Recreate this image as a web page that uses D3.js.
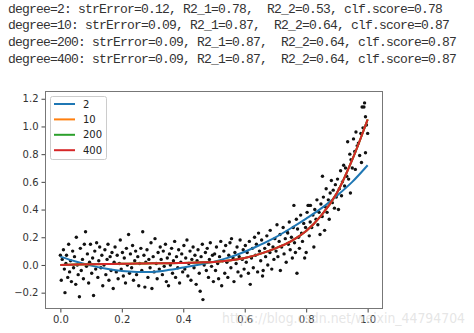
<!DOCTYPE html>
<html>
<head>
<meta charset="utf-8">
<script src="https://cdn.jsdelivr.net/npm/d3@7"></script>
<style>
body{margin:0;background:#fff;}
svg{display:block;}
</style>
</head>
<body>
<div id="chart"></div>
<script>
//printed output above the plot
var printLines = [
	"degree=2: strError=0.12, R2_1=0.78,  R2_2=0.53, clf.score=0.78",
	"degree=10: strError=0.09, R2_1=0.87,  R2_2=0.64, clf.score=0.87",
	"degree=200: strError=0.09, R2_1=0.87,  R2_2=0.64, clf.score=0.87",
	"degree=400: strError=0.09, R2_1=0.87,  R2_2=0.64, clf.score=0.87"
];

//fitted curves
var curveX = [0,0.05,0.1,0.15,0.2,0.25,0.3,0.35,0.4,0.45,0.5,0.55,0.6,0.65,0.7,0.75,0.8,0.85,0.9,0.95,1.0];
var deg2   = [0.06,0.025,-0.005,-0.028,-0.043,-0.05,-0.05,-0.037,-0.018,0.002,0.024,0.055,0.095,0.145,0.2,0.265,0.335,0.41,0.5,0.6,0.72];
var deg10  = [0.0,0.003,0.005,0.007,0.009,0.01,0.012,0.013,0.015,0.018,0.022,0.032,0.05,0.08,0.12,0.17,0.245,0.36,0.52,0.76,1.05];
var deg200 = [0.0,0.003,0.005,0.007,0.009,0.01,0.012,0.013,0.015,0.018,0.022,0.032,0.05,0.08,0.12,0.17,0.245,0.36,0.52,0.76,1.05];
var deg400 = [0.0,0.003,0.005,0.007,0.009,0.01,0.012,0.013,0.015,0.018,0.022,0.032,0.05,0.08,0.12,0.17,0.245,0.36,0.52,0.76,1.05];
var seriesNames = ["2","10","200","400"];
var seriesColors = ["#1f77b4","#ff7f0e","#2ca02c","#d62728"];

var xTicks = [0,0.2,0.4,0.6,0.8,1.0];
var yTicks = [-0.2,0,0.2,0.4,0.6,0.8,1.0,1.2];

//noisy samples [x,y]
var dots = [
[0.00,0.07],[0.003,-0.11],[0.006,0.04],[0.01,0.11],[0.013,-0.03],[0.015,-0.20],[0.018,0.01],[0.02,0.07],[0.024,-0.09],[0.027,0.15],
[0.03,-0.05],[0.033,0.03],[0.036,-0.12],[0.04,0.10],[0.043,-0.02],[0.046,0.06],[0.05,-0.14],[0.052,0.20],[0.055,0.00],[0.058,-0.07],
[0.062,-0.23],[0.065,0.12],[0.068,-0.04],[0.072,0.04],[0.075,-0.10],[0.078,0.15],[0.082,0.24],[0.085,-0.01],[0.088,0.08],[0.092,-0.13],
[0.095,0.02],[0.098,0.15],
[0.102,-0.06],[0.105,0.05],[0.108,-0.22],[0.112,0.10],[0.115,-0.03],[0.118,0.16],[0.122,-0.09],[0.125,0.03],[0.128,0.13],[0.132,-0.02],
[0.135,0.07],[0.138,-0.15],[0.142,0.00],[0.145,0.11],[0.148,-0.07],[0.152,0.04],[0.155,0.15],[0.158,-0.11],[0.162,0.06],[0.165,-0.04],
[0.168,0.09],[0.172,-0.17],[0.175,0.02],[0.178,0.13],[0.182,-0.05],[0.185,0.07],[0.188,-0.10],[0.192,0.01],[0.195,0.18],[0.198,-0.03],
[0.202,0.09],[0.205,-0.08],[0.208,0.05],[0.212,-0.13],[0.215,0.12],[0.218,0.00],[0.222,0.22],[0.225,-0.06],[0.228,0.08],[0.232,-0.02],
[0.235,0.14],[0.238,-0.11],[0.242,0.03],[0.245,0.10],[0.248,-0.07],[0.252,0.06],[0.255,-0.15],[0.258,0.01],[0.262,0.12],[0.265,-0.04],
[0.268,0.24],[0.272,0.07],[0.275,-0.16],[0.278,0.02],[0.282,0.11],[0.285,-0.09],[0.288,0.04],[0.292,-0.02],[0.295,0.16],[0.298,-0.17],
[0.302,0.06],[0.305,-0.05],[0.308,0.19],[0.312,0.01],[0.315,-0.10],[0.318,0.09],[0.322,-0.03],[0.325,0.13],[0.328,0.04],[0.332,-0.07],
[0.335,0.10],[0.338,-0.01],[0.342,0.15],[0.345,-0.12],[0.348,0.05],[0.352,-0.15],[0.355,0.08],[0.358,0.00],[0.362,0.12],[0.365,-0.06],
[0.368,0.03],[0.372,0.17],[0.375,-0.09],[0.378,0.06],[0.382,-0.02],[0.385,0.11],[0.388,-0.13],[0.392,0.02],[0.395,0.08],[0.398,-0.05],
[0.402,0.14],[0.405,-0.03],[0.408,0.05],[0.412,0.18],[0.415,-0.08],[0.418,0.01],[0.422,0.10],[0.425,-0.11],[0.428,0.04],[0.432,0.13],
[0.435,-0.02],[0.438,0.07],[0.442,-0.14],[0.445,0.03],[0.448,0.11],[0.452,-0.06],[0.455,-0.19],[0.458,0.06],[0.462,0.15],[0.464,-0.25],
[0.468,0.00],[0.472,0.09],[0.475,-0.04],[0.478,0.12],[0.482,-0.09],[0.485,0.04],[0.488,0.16],[0.492,-0.01],[0.495,0.07],[0.498,-0.12],
[0.502,0.08],[0.505,-0.04],[0.508,0.13],[0.512,0.01],[0.515,-0.10],[0.518,0.06],[0.522,0.17],[0.525,-0.15],[0.528,0.03],[0.532,0.10],
[0.535,-0.06],[0.538,0.14],[0.542,0.02],[0.545,-0.09],[0.548,0.07],[0.552,0.16],[0.555,-0.02],[0.557,0.19],[0.562,0.05],[0.565,-0.12],
[0.568,0.09],[0.572,0.01],[0.575,0.13],[0.578,-0.05],[0.582,0.06],[0.585,0.18],[0.588,-0.08],[0.592,0.04],[0.595,0.11],[0.598,-0.03],
[0.602,0.14],[0.605,0.02],[0.608,0.09],[0.612,-0.06],[0.615,0.17],[0.618,-0.14],[0.622,0.05],[0.625,0.12],[0.628,-0.02],[0.632,0.20],
[0.635,0.07],[0.638,0.15],[0.642,-0.05],[0.645,0.23],[0.648,0.10],[0.652,0.03],[0.655,0.18],[0.658,-0.08],[0.66,-0.04],[0.665,0.12],
[0.668,0.06],[0.672,0.21],[0.675,0.00],[0.678,0.15],[0.682,0.09],[0.683,0.25],[0.688,-0.03],[0.692,0.13],[0.695,0.04],[0.698,0.19],
[0.702,0.10],[0.705,0.29],[0.708,0.06],[0.712,0.17],[0.715,0.22],[0.716,-0.04],[0.72,0.13],[0.725,0.27],[0.728,0.08],[0.732,0.19],
[0.735,0.02],[0.738,0.24],[0.74,0.23],[0.742,0.15],[0.745,0.31],[0.748,0.11],[0.752,0.20],[0.755,0.05],[0.758,0.27],[0.76,0.43],
[0.762,0.16],[0.765,0.09],[0.768,0.33],[0.77,-0.06],[0.772,0.26],[0.775,0.20],[0.778,0.12],[0.782,0.36],[0.785,0.23],[0.788,0.17],
[0.792,0.30],[0.795,0.05],[0.798,0.27],
[0.80,0.09],[0.803,0.38],[0.806,0.43],[0.809,0.43],[0.81,0.21],[0.813,0.31],[0.814,0.43],[0.818,0.27],[0.822,0.36],[0.825,0.13],
[0.828,0.40],[0.832,0.33],[0.835,0.47],[0.838,0.29],[0.842,0.38],[0.845,0.22],[0.848,0.44],[0.852,0.35],[0.853,0.64],[0.856,0.49],
[0.86,0.25],[0.862,0.42],[0.865,0.55],[0.868,0.38],[0.872,0.47],[0.875,0.33],[0.878,0.52],[0.882,0.61],[0.885,0.45],[0.888,0.54],
[0.892,0.41],[0.895,0.58],[0.898,0.49],
[0.902,0.62],[0.905,0.40],[0.908,0.55],[0.912,0.68],[0.915,0.50],[0.918,0.60],[0.922,0.72],[0.925,0.57],[0.928,0.70],[0.932,0.64],
[0.935,0.89],[0.938,0.62],[0.942,0.80],[0.944,0.52],[0.946,0.76],[0.95,0.70],[0.954,0.91],[0.958,0.82],[0.96,0.69],[0.962,0.96],
[0.966,0.86],[0.97,0.88],[0.974,0.79],[0.978,0.95],[0.98,0.74],[0.982,1.14],[0.985,0.99],[0.988,1.14],[0.99,1.17],[0.993,1.07],
[0.993,0.81],[0.996,1.01],[1.0,0.95]
];

var svgWidth = 474, svgHeight = 333;
var svg = d3.select("#chart").append("svg")
	.attr("width", svgWidth)
	.attr("height", svgHeight);

//console text
svg.selectAll(".printLine").data(printLines).enter().append("text")
	.attr("class","printLine")
	.attr("x", 8)
	.attr("y", function(d,i){ return 12.5 + i*16.8; })
	.attr("xml:space","preserve")
	.style("white-space","pre")
	.style("font-family","'Liberation Mono', 'DejaVu Sans Mono', monospace")
	.style("font-size","13px")
	.style("letter-spacing","-0.8px")
	.style("fill","#333")
	.text(function(d){ return d; });

//axes box
var boxLeft = 45, boxRight = 383, boxTop = 91, boxBottom = 309;
var x = d3.scaleLinear().domain([-0.05,1.05]).range([boxLeft,boxRight]);
var y = d3.scaleLinear().domain([-0.318,1.256]).range([boxBottom,boxTop]);

var plot = svg.append("g");

//scatter
plot.selectAll(".dot").data(dots).enter().append("circle")
	.attr("class","dot")
	.attr("cx", function(d){ return x(d[0]); })
	.attr("cy", function(d){ return y(d[1]); })
	.attr("r", 1.7)
	.attr("fill","#111");

//lines
var allSeries = [deg2, deg10, deg200, deg400];
var line = d3.line()
	.x(function(d,i){ return x(curveX[i]); })
	.y(function(d){ return y(d); })
	.curve(d3.curveCatmullRom);
plot.selectAll(".fit").data(allSeries).enter().append("path")
	.attr("class","fit")
	.attr("d", line)
	.attr("fill","none")
	.attr("stroke", function(d,i){ return seriesColors[i]; })
	.attr("stroke-width", 2);

//axes
var xAxis = svg.append("g").attr("transform","translate(0,"+boxBottom+")")
	.call(d3.axisBottom(x).tickValues(xTicks).tickFormat(d3.format(".1f")).tickSize(3.5).tickPadding(3));
var yAxis = svg.append("g").attr("transform","translate("+boxLeft+",0)")
	.call(d3.axisLeft(y).tickValues(yTicks).tickFormat(d3.format(".1f")).tickSize(3.5).tickPadding(3));
[xAxis, yAxis].forEach(function(a){
	a.select(".domain").remove();
	a.selectAll("line").attr("stroke","#444");
	a.selectAll("text")
		.style("font-family","'DejaVu Sans', sans-serif")
		.style("font-size","10px")
		.style("fill","#333");
});

svg.append("rect")
	.attr("x", boxLeft+0.5).attr("y", boxTop+0.5)
	.attr("width", boxRight-boxLeft-1).attr("height", boxBottom-boxTop-1)
	.attr("fill","none")
	.attr("stroke","#777")
	.attr("stroke-width",1);

//legend
var legend = svg.append("g");
legend.append("rect")
	.attr("x",50.5).attr("y",96.5).attr("width",56).attr("height",63)
	.attr("rx",2).attr("ry",2)
	.attr("fill","#fff").attr("fill-opacity",0.8)
	.attr("stroke","#ccc");
var items = legend.selectAll(".item").data(seriesNames).enter().append("g")
	.attr("class","item")
	.attr("transform", function(d,i){ return "translate(0,"+(104+i*15.4)+")"; });
items.append("line")
	.attr("x1",54).attr("x2",75).attr("y1",0).attr("y2",0)
	.attr("stroke", function(d,i){ return seriesColors[i]; })
	.attr("stroke-width",2);
items.append("text")
	.attr("x",83).attr("y",3.5)
	.style("font-family","'DejaVu Sans', sans-serif")
	.style("font-size","10px")
	.style("fill","#222")
	.text(function(d){ return d; });

//watermark
svg.append("text")
	.attr("x",222).attr("y",323)
	.attr("textLength",243).attr("lengthAdjust","spacingAndGlyphs")
	.style("font-family","'DejaVu Sans', sans-serif")
	.style("font-size","14px")
	.style("fill","#d0d0d0")
	.style("fill-opacity",0.55)
	.text("https://blog.csdn.net/weixin_44794704");
</script>
</body>
</html>
